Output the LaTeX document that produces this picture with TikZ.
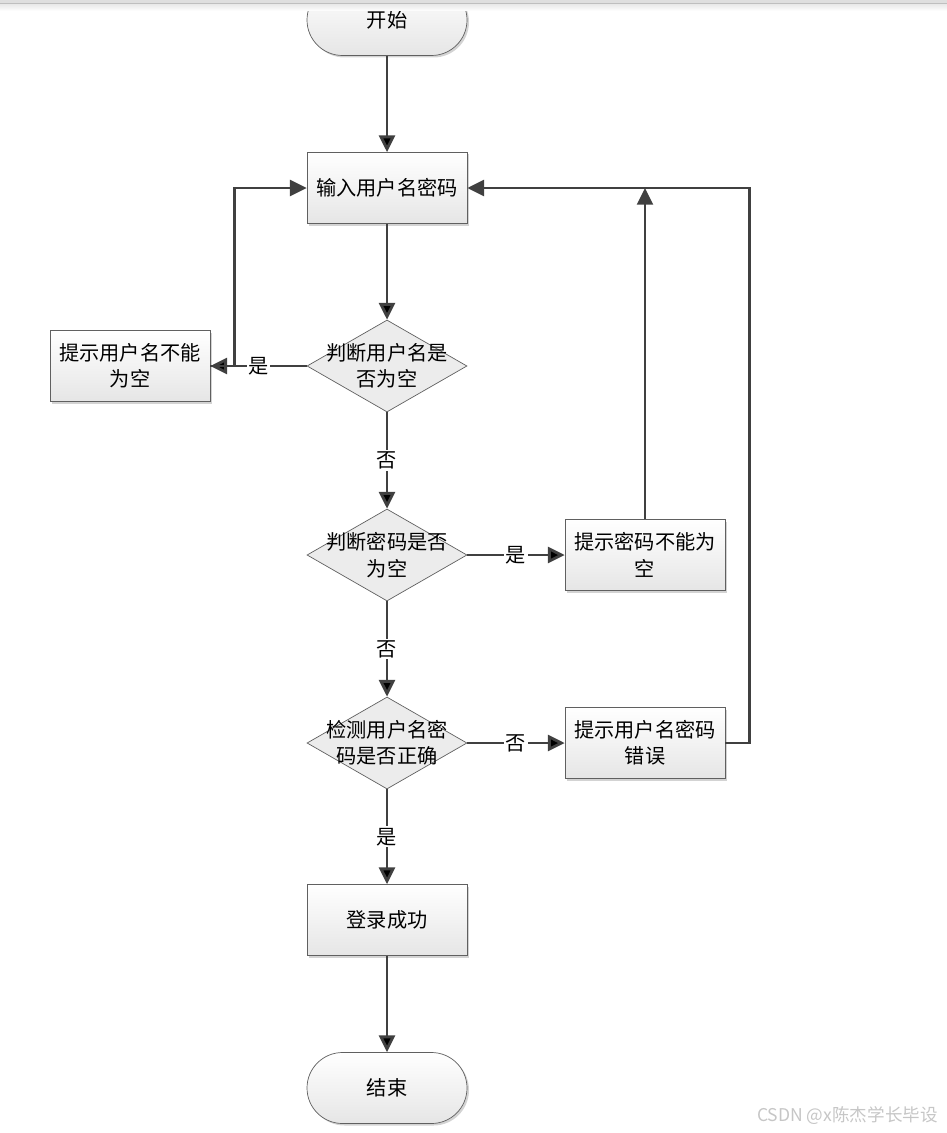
\documentclass[tikz,border=0pt]{standalone}
\usepackage{fontspec}
\setmainfont{Noto Sans CJK SC}
\usepackage{tikz}
\usetikzlibrary{arrows.meta,shapes.geometric,shadows}

\tikzset{
  block/.style={rectangle, draw=gray!75!black, top color=white, bottom color=gray!20,
    minimum width=3.2cm, minimum height=1.42cm, align=center, inner sep=1pt,
    drop shadow={shadow xshift=0.04cm, shadow yshift=-0.04cm, opacity=0.35}},
  term/.style={block, rounded corners=0.71cm},
  decision/.style={diamond, draw=gray!75!black, fill=gray!15,
    minimum width=3.2cm, minimum height=1.84cm, inner sep=0pt},
  tag/.style={fill=white, inner sep=1pt},
}

\begin{document}
\begin{tikzpicture}[flow/.style={draw=black!75, line width=1.6pt, -{Triangle[length=9.5pt,width=9pt]}},
                    node distance=3.6cm, font=\fontsize{11.5pt}{15pt}\selectfont]
\useasboundingbox (0,0) rectangle (18.94,-22.66);

% start node, cut off by the top edge
\begin{scope}
\clip (0,-0.1) rectangle (18.94,-2);
\node[term] (start) at (7.74,-0.4) {开始};
\end{scope}
\fill[gray!25] (0,0) rectangle (18.94,-0.06);
\fill[gray!50] (0,-0.06) rectangle (18.94,-0.1);
\shade[top color=gray!15, bottom color=white] (0,-0.1) rectangle (18.94,-0.22);

\node[block] (input) [below of=start, node distance=3.36cm] {输入用户名密码};
\node[decision, label={[align=center]center:判断用户名是\\否为空}] (chkUser) [below of=input, node distance=3.56cm] {};
\node[decision, label={[align=center]center:判断密码是否\\为空}] (chkPwd) [below of=chkUser, node distance=3.78cm] {};
\node[decision, label={[align=center]center:检测用户名密\\码是否正确}] (chkLogin) [below of=chkPwd, node distance=3.76cm] {};
\node[block] (ok) [below of=chkLogin, node distance=3.54cm] {登录成功};
\node[term] (stop) [below of=ok, node distance=3.36cm] {结束};

\node[block] (tipUser) [left of=chkUser, node distance=5.14cm] {提示用户名不能\\为空};
\node[block] (tipPwd) [right of=chkPwd, node distance=5.16cm] {提示密码不能为\\空};
\node[block] (tipErr) [right of=chkLogin, node distance=5.16cm] {提示用户名密码\\错误};

\path[flow]
	(start) edge (input)
	(input) edge (chkUser)
	(chkUser) edge node[tag]{否} (chkPwd)
	(chkPwd) edge node[tag]{否} (chkLogin)
	(chkLogin) edge node[tag]{是} (ok)
	(ok) edge (stop);
\path[flow]
	(chkUser) edge node[tag]{是} (tipUser)
	(chkPwd) edge node[tag]{是} (tipPwd)
	(chkLogin) edge node[tag]{否} (tipErr);

% back to the input box
\draw[flow] (tipUser.east) -- ++(0.48,0) |- (input.west);
\draw[flow] (tipPwd.north) -- (tipPwd.north |- input.east);
\draw[flow] (tipErr.east) -- ++(0.48,0) |- (input.east);

\node[anchor=east, text=gray!45, font=\fontsize{10pt}{12pt}\selectfont] (mark) at (18.88,-22.32) {CSDN @x陈杰学长毕设};

\end{tikzpicture}
\end{document}
